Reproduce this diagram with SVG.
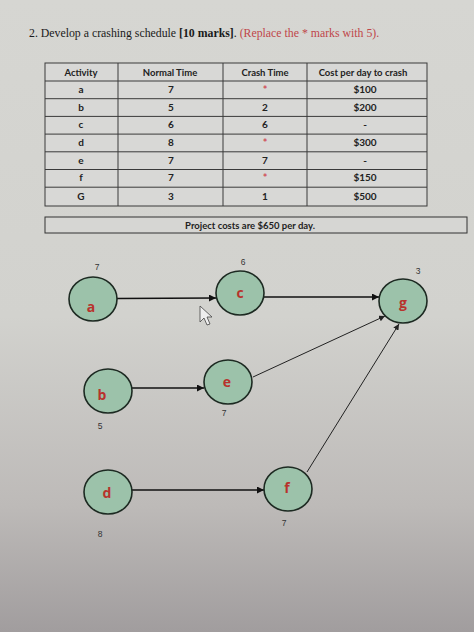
<svg xmlns="http://www.w3.org/2000/svg" width="474" height="632" viewBox="0 0 474 632">
<defs>
<linearGradient id="bg" x1="0" y1="0" x2="0" y2="1">
<stop offset="0" stop-color="#d6d6d2"/>
<stop offset="0.5" stop-color="#d2d2ce"/>
<stop offset="0.8" stop-color="#bdbab8"/>
<stop offset="1" stop-color="#a19d9e"/>
</linearGradient>
<marker id="ah" viewBox="0 0 10 10" refX="10" refY="5" markerWidth="7" markerHeight="7" markerUnits="userSpaceOnUse" orient="auto">
<path d="M0,0 L10,5 L0,10 z" fill="#111"/>
</marker>
<marker id="ahs" viewBox="0 0 10 10" refX="10" refY="5" markerWidth="6" markerHeight="6" markerUnits="userSpaceOnUse" orient="auto">
<path d="M0,0 L10,5 L0,10 z" fill="#222"/>
</marker>
</defs>
<style>
.title{font-family:"Liberation Serif","Times New Roman",serif;font-size:11.8px;fill:#1a1a1a}
.red{fill:#c0464a}
.th{font-family:Lato,"Liberation Sans",sans-serif;font-weight:bold;font-size:9.5px;fill:#222;text-anchor:middle}
.td{font-family:Lato,"Liberation Sans",sans-serif;font-weight:bold;font-size:10px;fill:#222;text-anchor:middle}
.star{fill:#d0505a;font-size:11px}
.grid{stroke:#3a3a3a;stroke-width:1;fill:none}
.node{fill:#9cc2aa;stroke:#1d2a22;stroke-width:1.6}
.nl{font-family:"Open Sans","Liberation Sans",sans-serif;font-weight:bold;font-size:14px;fill:#b8322c;text-anchor:middle}
.dur{font-family:"Liberation Sans",sans-serif;font-size:8.5px;fill:#333;text-anchor:middle}
.edge{stroke:#111;stroke-width:1.6;fill:none}
.thin{stroke:#222;stroke-width:1;fill:none}
</style>
<rect x="0" y="0" width="474" height="632" fill="url(#bg)"/>
<text class="title" x="29" y="37">2. Develop a crashing schedule <tspan font-weight="bold">[10 marks]</tspan>. <tspan class="red">(Replace the * marks with 5).</tspan></text>
<g id="table">
<rect x="45" y="63" width="382" height="143" fill="#d8d8d6"/>
<rect class="grid" x="45" y="63" width="382" height="143"/>
<path class="grid" d="M118,63V206M223,63V206M307,63V206M45,81H427M45,98.7H427M45,116.4H427M45,134.1H427M45,151.8H427M45,169.5H427M45,187.2H427"/>
<text class="th" x="81" y="75.5">Activity</text>
<text class="th" x="170" y="75.5">Normal Time</text>
<text class="th" x="265" y="75.5">Crash Time</text>
<text class="th" x="363" y="75.5">Cost per day to crash</text>
<text class="td" x="81" y="93">a</text><text class="td" x="171" y="93">7</text><text class="td star" x="265" y="94">*</text><text class="td" x="365" y="93">$100</text>
<text class="td" x="81" y="110.5">b</text><text class="td" x="171" y="110.5">5</text><text class="td" x="265" y="110.5">2</text><text class="td" x="365" y="110.5">$200</text>
<text class="td" x="81" y="128">c</text><text class="td" x="171" y="128">6</text><text class="td" x="265" y="128">6</text><text class="td" x="365" y="128">-</text>
<text class="td" x="81" y="146">d</text><text class="td" x="171" y="146">8</text><text class="td star" x="265" y="147">*</text><text class="td" x="365" y="146">$300</text>
<text class="td" x="81" y="163.5">e</text><text class="td" x="171" y="163.5">7</text><text class="td" x="265" y="163.5">7</text><text class="td" x="365" y="163.5">-</text>
<text class="td" x="81" y="181">f</text><text class="td" x="171" y="181">7</text><text class="td star" x="265" y="182">*</text><text class="td" x="365" y="181">$150</text>
<text class="td" x="81" y="200">G</text><text class="td" x="171" y="200">3</text><text class="td" x="265" y="200">1</text><text class="td" x="365" y="200">$500</text>
</g>
<g id="costbox">
<rect x="45" y="217" width="422" height="16" fill="#d6d6d3" stroke="#333" stroke-width="1"/>
<text class="th" x="250" y="229">Project costs are $650 per day.</text>
</g>
<g id="connectors">
<line class="edge" x1="117" y1="298.5" x2="216" y2="298" marker-end="url(#ah)"/>
<line class="edge" x1="264" y1="297" x2="379" y2="297" marker-end="url(#ah)"/>
<line class="edge" x1="132" y1="388" x2="204" y2="388" marker-end="url(#ah)"/>
<line class="edge" x1="132" y1="490" x2="264" y2="490" marker-end="url(#ah)"/>
<line class="thin" x1="253" y1="377" x2="385" y2="316" marker-end="url(#ahs)"/>
<line class="thin" x1="307" y1="472" x2="399" y2="324" marker-end="url(#ahs)"/>
</g>
<g id="node-a"><ellipse class="node" cx="93" cy="299" rx="24" ry="22"/><text class="nl" x="91" y="312">a</text><text class="dur" x="97" y="270">7</text></g>
<g id="node-c"><ellipse class="node" cx="240" cy="293" rx="24" ry="22"/><text class="nl" x="240" y="298">c</text><text class="dur" x="243" y="265">6</text></g>
<g id="node-g"><ellipse class="node" cx="403" cy="301" rx="24" ry="22"/><text class="nl" x="403" y="308">g</text><text class="dur" x="418" y="274">3</text></g>
<g id="node-b"><ellipse class="node" cx="108" cy="391" rx="24" ry="22"/><text class="nl" x="102" y="400">b</text><text class="dur" x="100" y="429">5</text></g>
<g id="node-e"><ellipse class="node" cx="228" cy="382" rx="24" ry="22"/><text class="nl" x="227" y="387">e</text><text class="dur" x="224" y="416">7</text></g>
<g id="node-d"><ellipse class="node" cx="108" cy="492" rx="24" ry="22"/><text class="nl" x="107" y="498">d</text><text class="dur" x="100" y="537">8</text></g>
<g id="node-f"><ellipse class="node" cx="288" cy="489" rx="24" ry="22"/><text class="nl" x="287" y="493">f</text><text class="dur" x="284" y="526">7</text></g>
<path d="M200,306 L200,322 L204,318 L207,325 L210,324 L207,317 L212,317 Z" fill="#eeeeee" stroke="#444" stroke-width="0.8"/>
</svg>
